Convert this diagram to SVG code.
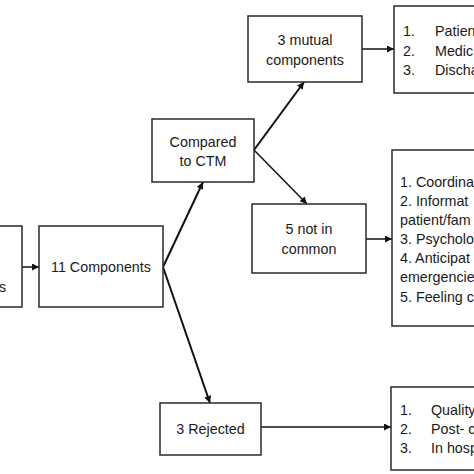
<svg xmlns="http://www.w3.org/2000/svg" width="474" height="474" viewBox="0 0 474 474">
<defs>
<style>
.box{fill:#fff;stroke:#2a2a2a;stroke-width:1.5}
.t{font-family:"Liberation Sans",Arial,sans-serif;font-size:14.3px;fill:#1a1a1a}
.c{text-anchor:middle}
.ln{stroke:#111;stroke-width:2;fill:none;marker-end:url(#ah)}
.ls{stroke:#111;stroke-width:1.5;fill:none;marker-end:url(#ah)}
</style>
<marker id="ah" viewBox="0 0 10 10" refX="10" refY="5" markerWidth="8" markerHeight="7" markerUnits="userSpaceOnUse" orient="auto">
<path d="M0,0 L10,5 L0,10 Z" fill="#111"/>
</marker>
</defs>
<rect width="474" height="474" fill="#fff"/>
<g id="connectors">
<line class="ls" x1="22" y1="267" x2="39" y2="267"/>
<line class="ln" x1="163" y1="267" x2="203" y2="182"/>
<line class="ln" x1="163" y1="267" x2="210" y2="403"/>
<line class="ln" x1="254" y1="150" x2="304" y2="82"/>
<line class="ls" x1="254" y1="150" x2="307" y2="204"/>
<line class="ls" x1="362" y1="49" x2="394" y2="49"/>
<line class="ls" x1="366" y1="239" x2="392" y2="239"/>
<line class="ls" x1="261" y1="427" x2="391" y2="427"/>
</g>
<g id="n-left">
<rect class="box" x="-2" y="226" width="24" height="81"/>
<text class="t" x="-1" y="292">s</text>
</g>
<g id="n-11">
<rect class="box" x="39" y="226" width="124" height="81"/>
<text class="t c" x="101" y="272">11 Components</text>
</g>
<g id="n-compared">
<rect class="box" x="152" y="119" width="102" height="63"/>
<text class="t c" x="203" y="147">Compared</text>
<text class="t c" x="203" y="166">to CTM</text>
</g>
<g id="n-mutual">
<rect class="box" x="248" y="16" width="114" height="66"/>
<text class="t c" x="305" y="45">3 mutual</text>
<text class="t c" x="305" y="65">components</text>
</g>
<g id="n-notcommon">
<rect class="box" x="252" y="204" width="114" height="69"/>
<text class="t c" x="309" y="234">5 not in</text>
<text class="t c" x="309" y="254">common</text>
</g>
<g id="n-rejected">
<rect class="box" x="160" y="403" width="101" height="52"/>
<text class="t c" x="210.5" y="434">3 Rejected</text>
</g>
<g id="n-list1">
<rect class="box" x="394" y="6" width="90" height="87"/>
<text class="t" x="403" y="36">1.</text><text class="t" x="435" y="36">Patient</text>
<text class="t" x="403" y="56">2.</text><text class="t" x="435" y="56">Medic</text>
<text class="t" x="403" y="75">3.</text><text class="t" x="435" y="75">Discha</text>
</g>
<g id="n-list2">
<rect class="box" x="392" y="150" width="92" height="176"/>
<text class="t" x="400" y="187">1. Coordina</text>
<text class="t" x="400" y="206">2. Informat</text>
<text class="t" x="400" y="225">patient/fam</text>
<text class="t" x="400" y="244">3. Psycholo</text>
<text class="t" x="400" y="263">4. Anticipat</text>
<text class="t" x="400" y="282">emergencie</text>
<text class="t" x="400" y="302">5. Feeling c</text>
</g>
<g id="n-list3">
<rect class="box" x="391" y="387" width="93" height="83"/>
<text class="t" x="400" y="415">1.</text><text class="t" x="431" y="415">Quality</text>
<text class="t" x="400" y="434">2.</text><text class="t" x="431" y="434">Post- c</text>
<text class="t" x="400" y="453">3.</text><text class="t" x="431" y="453">In hosp</text>
</g>
</svg>
